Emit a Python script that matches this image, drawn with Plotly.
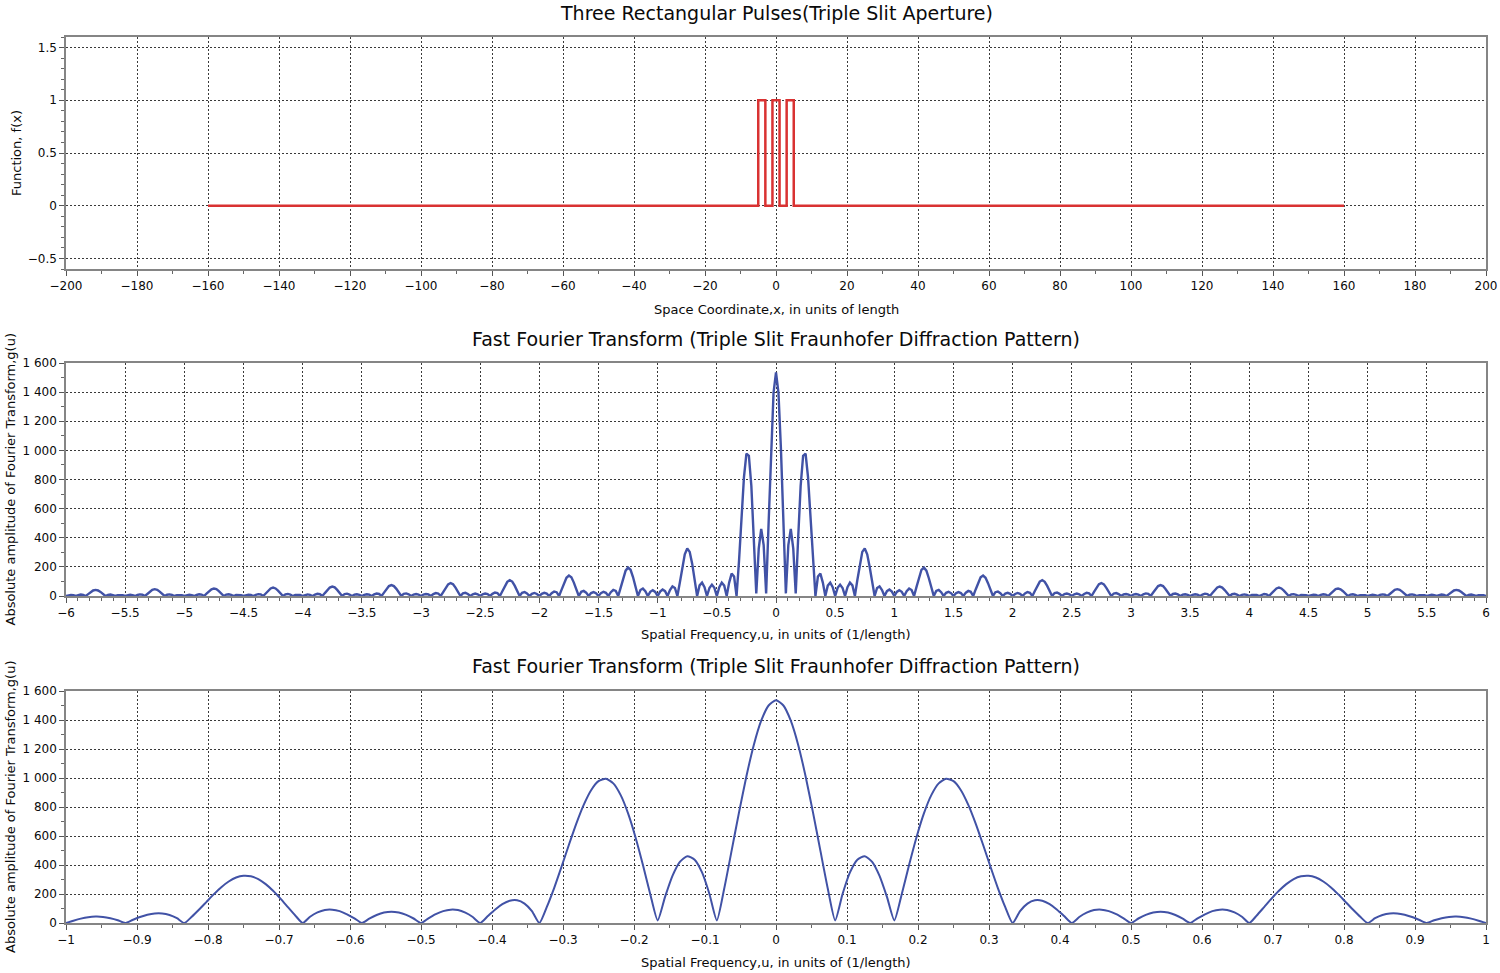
import plotly.graph_objects as go
from plotly.subplots import make_subplots

# --- top panel: three rectangular pulses, f(x) ---
x_pulse = [-160, -5, -5, -3, -3, -1, -1, 1, 1, 3, 3, 5, 5, 160]
f_pulse = [0, 0, 1, 1, 0, 0, 1, 1, 0, 0, 1, 1, 0, 0]

# --- middle panel: |g(u)| read on a 1/48 grid, u = -6 .. 6 ---
g_full_neg = [
    0,
    5, 7, 5, 0, 6, 10, 8, 0, 13, 27, 38, 42, 38, 28, 13, 0, 8, 10, 6, 0, 6, 8, 5, 0,
    5, 8, 6, 0, 7, 11, 9, 0, 14, 30, 42, 47, 42, 30, 14, 0, 9, 11, 7, 0, 6, 8, 6, 0,
    6, 8, 6, 0, 7, 12, 10, 0, 16, 33, 46, 51, 47, 33, 16, 0, 10, 12, 8, 0, 7, 9, 6, 0,
    6, 9, 7, 0, 8, 13, 11, 0, 17, 37, 52, 58, 52, 37, 18, 0, 11, 14, 9, 0, 8, 10, 7, 0,
    7, 11, 8, 0, 9, 15, 12, 0, 20, 41, 58, 65, 59, 42, 20, 0, 13, 16, 10, 0, 9, 12, 8, 0,
    8, 12, 9, 0, 11, 17, 14, 0, 23, 48, 68, 75, 68, 49, 24, 0, 15, 18, 12, 0, 10, 14, 10, 0,
    10, 14, 11, 0, 13, 20, 17, 0, 27, 56, 80, 89, 81, 58, 28, 0, 18, 22, 14, 0, 12, 17, 12, 0,
    12, 17, 13, 0, 15, 24, 20, 0, 33, 69, 97, 109, 99, 71, 34, 0, 22, 27, 17, 0, 15, 21, 14, 0,
    15, 22, 16, 0, 19, 31, 26, 0, 42, 88, 125, 140, 128, 92, 45, 0, 29, 35, 23, 0, 20, 27, 19, 0,
    20, 29, 22, 0, 26, 42, 35, 0, 57, 122, 174, 196, 180, 130, 63, 0, 41, 51, 33, 0, 29, 40, 28, 0,
    30, 44, 33, 0, 41, 66, 55, 0, 93, 199, 286, 326, 303, 222, 110, 0, 73, 92, 60, 0, 55, 78, 56, 0,
    61, 92, 71, 0, 92, 154, 134, 0, 241, 540, 815, 978, 963, 756, 402, 18, 325, 461, 349, 18, 499, 1012, 1395,
]
g_full_pos = [
    1536, 1395, 1012, 499, 18, 349, 461, 325, 18, 402, 756, 963, 978, 815, 540, 241, 0, 134, 154, 92, 0, 71, 92, 61,
    0, 56, 78, 55, 0, 60, 92, 73, 0, 110, 222, 303, 326, 286, 199, 93, 0, 55, 66, 41, 0, 33, 44, 30,
    0, 28, 40, 29, 0, 33, 51, 41, 0, 63, 130, 180, 196, 174, 122, 57, 0, 35, 42, 26, 0, 22, 29, 20,
    0, 19, 27, 20, 0, 23, 35, 29, 0, 45, 92, 128, 140, 125, 88, 42, 0, 26, 31, 19, 0, 16, 22, 15,
    0, 14, 21, 15, 0, 17, 27, 22, 0, 34, 71, 99, 109, 97, 69, 33, 0, 20, 24, 15, 0, 13, 17, 12,
    0, 12, 17, 12, 0, 14, 22, 18, 0, 28, 58, 81, 89, 80, 56, 27, 0, 17, 20, 13, 0, 11, 14, 10,
    0, 10, 14, 10, 0, 12, 18, 15, 0, 24, 49, 68, 75, 68, 48, 23, 0, 14, 17, 11, 0, 9, 12, 8,
    0, 8, 12, 9, 0, 10, 16, 13, 0, 20, 42, 59, 65, 58, 41, 20, 0, 12, 15, 9, 0, 8, 11, 7,
    0, 7, 10, 8, 0, 9, 14, 11, 0, 18, 37, 52, 58, 52, 37, 17, 0, 11, 13, 8, 0, 7, 9, 6,
    0, 6, 9, 7, 0, 8, 12, 10, 0, 16, 33, 47, 51, 46, 33, 16, 0, 10, 12, 7, 0, 6, 8, 6,
    0, 6, 8, 6, 0, 7, 11, 9, 0, 14, 30, 42, 47, 42, 30, 14, 0, 9, 11, 7, 0, 6, 8, 5,
    0, 5, 8, 6, 0, 6, 10, 8, 0, 13, 28, 38, 42, 38, 27, 13, 0, 8, 10, 6, 0, 5, 7, 5,
    0,
]
u_full_start = -6
u_full_step = 1 / 48

# --- bottom panel: |g(u)| read on a 1/96 grid, u = -1 .. 1 ---
g_zoom_neg = [
    0, 16, 30, 40, 44, 42, 33, 19, 0, 21, 41, 57, 66, 66, 55, 33, 0, 43, 93, 146,
    199, 247, 286, 314, 326, 322, 303, 268, 222, 168, 110, 52, 0, 43, 73, 90, 92, 82, 60, 32,
    0, 30, 55, 72, 78, 72, 56, 31, 0, 32, 61, 82, 92, 89, 71, 41, 0, 46, 92, 130,
    154, 157, 134, 82, 0, 109, 241, 388, 540, 686, 815, 916, 978, 995, 963, 882, 756, 592, 402, 199,
    18, 180, 325, 422, 461, 437, 349, 200, 18, 238, 499, 763, 1012, 1228, 1395, 1500,
]
g_zoom_pos = [
    1536, 1500, 1395, 1228, 1012, 763, 499, 238, 18, 200, 349, 437, 461, 422, 325, 180, 18, 199, 402, 592,
    756, 882, 963, 995, 978, 916, 815, 686, 540, 388, 241, 109, 0, 82, 134, 157, 154, 130, 92, 46,
    0, 41, 71, 89, 92, 82, 61, 32, 0, 31, 56, 72, 78, 72, 55, 30, 0, 32, 60, 82,
    92, 90, 73, 43, 0, 52, 110, 168, 222, 268, 303, 322, 326, 314, 286, 247, 199, 146, 93, 43,
    0, 33, 55, 66, 66, 57, 41, 21, 0, 19, 33, 42, 44, 40, 30, 16, 0,
]
u_zoom_start = -1
u_zoom_step = 1 / 96

TITLE_1 = "Three Rectangular Pulses(Triple Slit Aperture)"
TITLE_2 = "Fast Fourier Transform (Triple Slit Fraunhofer Diffraction Pattern)"
XLABEL_1 = "Space Coordinate,x, in units of length"
XLABEL_2 = "Spatial Frequency,u, in units of (1/length)"
YLABEL_1 = "Function, f(x)"
YLABEL_2 = "Absolute amplitude of Fourier Transform,g(u)"

FONT = "DejaVu Sans"
INK = "#0a0a0a"
RED = "#d93232"
BLUE = "#4152a6"

W, H = 1500, 973
ML, MR, MT, MB = 66, 14, 37, 50
PH = H - MT - MB


def dom(top_px, bottom_px):
    """pixel rows -> paper fraction domain"""
    return [(H - MB - bottom_px) / PH, (H - MB - top_px) / PH]


def axis_style(dtick, minor_dtick, rng):
    return dict(
        range=rng, dtick=dtick, showline=True, mirror=True,
        linecolor="#858585", linewidth=1.5, automargin=False,
        ticks="outside", ticklen=5, tickcolor="#555555", tickwidth=1,
        showgrid=True, gridcolor="#3a3a3a", griddash="2px,2px", gridwidth=1,
        zeroline=False, separatethousands=True,
        tickfont=dict(family=FONT, size=12, color=INK),
        minor=dict(dtick=minor_dtick, ticks="outside", ticklen=3,
                   tickcolor="#666666", showgrid=False),
    )


fig = make_subplots(rows=3, cols=1)

fig.add_trace(go.Scatter(x=x_pulse, y=f_pulse, mode="lines",
                         line=dict(color=RED, width=2.5), showlegend=False), row=1, col=1)
fig.add_trace(go.Scatter(x0=u_full_start, dx=u_full_step, y=g_full_neg + g_full_pos,
                         mode="lines", line=dict(color=BLUE, width=2.4),
                         showlegend=False), row=2, col=1)
fig.add_trace(go.Scatter(x0=u_zoom_start, dx=u_zoom_step, y=g_zoom_neg + g_zoom_pos,
                         mode="lines",
                         line=dict(color=BLUE, width=2, shape="spline", smoothing=0.6),
                         showlegend=False), row=3, col=1)

fig.update_layout(
    width=W, height=H,
    margin=dict(l=ML, r=MR, t=MT, b=MB),
    paper_bgcolor="white", plot_bgcolor="white",
    separators=". ",
    font=dict(family=FONT, color=INK),
    xaxis=dict(axis_style(20, 10, [-200, 200]), domain=[0, 1]),
    yaxis=dict(axis_style(0.5, 0.1, [-0.6, 1.6]), domain=dom(37, 269)),
    xaxis2=dict(axis_style(0.5, 0.1, [-6, 6]), domain=[0, 1]),
    yaxis2=dict(axis_style(200, 100, [0, 1600]), domain=dom(363, 596)),
    xaxis3=dict(axis_style(0.1, 0.05, [-1, 1]), domain=[0, 1]),
    yaxis3=dict(axis_style(200, 100, [0, 1600]), domain=dom(691, 923)),
)

# titles and axis labels
notes = [
    (TITLE_1, "x", "y", 24),
    (TITLE_2, "x2", "y2", 24),
    (TITLE_2, "x3", "y3", 25),
]
for text, xr, yr, shift in notes:
    fig.add_annotation(text=text, xref=xr + " domain", yref=yr + " domain",
                       x=0.5, y=1, yshift=shift, showarrow=False,
                       xanchor="center", yanchor="middle",
                       font=dict(family=FONT, size=19, color=INK))

for text, xr, yr, shift in [(XLABEL_1, "x", "y", -40), (XLABEL_2, "x2", "y2", -38),
                            (XLABEL_2, "x3", "y3", -39)]:
    fig.add_annotation(text=text, xref=xr + " domain", yref=yr + " domain",
                       x=0.5, y=0, yshift=shift, showarrow=False,
                       xanchor="center", yanchor="middle",
                       font=dict(family=FONT, size=13, color=INK))

for text, yr, xpx in [(YLABEL_1, "y", 16), (YLABEL_2, "y2", 10), (YLABEL_2, "y3", 10)]:
    fig.add_annotation(text=text, xref="paper", yref=yr + " domain",
                       x=(xpx - ML) / (W - ML - MR), y=0.5, textangle=-90,
                       showarrow=False, xanchor="center", yanchor="middle",
                       font=dict(family=FONT, size=13, color=INK))

# the page body has a default margin; drop it so the figure sits at (0, 0)
fig.write_html("out.html", config={"displayModeBar": False},
               post_script="document.body.style.margin = '0';")
